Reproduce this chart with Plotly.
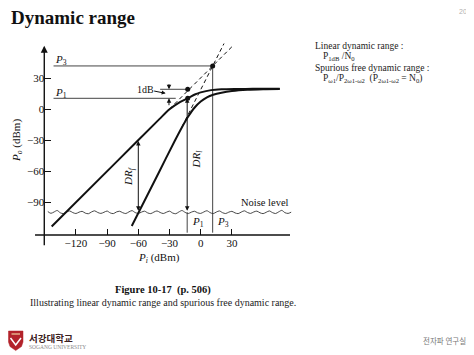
import plotly.graph_objects as go

W, H = 474, 355          # page / window size
OFF = 8                  # browser default body margin
FW, FH = W - OFF, H - OFF  # figure size so that it fills the window exactly

# ---------------- data ----------------
x_ticks = [-120, -90, -60, -30, 0, 30]
y_ticks = [30, 0, -30, -60, -90]

# fundamental output (compressed)
fund_x = [-143.3, -80, -40, -30, -20, -12.5, -5, 0, 10, 20, 35, 50, 76]
fund_y = [-113.0, -49.7, -9.7, 0.0, 7.0, 10.6, 14.5, 16.3, 18.5, 19.3, 19.6, 19.7, 19.7]
# third-order intermod output
third_x = [-66.3, -40, -25, -18, -12, -6, 0, 6, 12, 20, 30, 45, 60, 76]
third_y = [-112.6, -60.4, -30.6, -17.3, -7.0, 1.5, 7.5, 11.5, 14.0, 16.0, 17.6, 18.8, 19.3, 19.5]
# dashed linear extrapolations
fund_ext_x = [-30, 30.5]
fund_ext_y = [0.3, 60.8]
third_ext_x = [-18, 22.4]
third_ext_y = [-16.8, 63.4]
# special points
ip3_x, ip3_y = 11.5, 41.8          # intercept point (P3)
p1lin_x, p1lin_y = -12.5, 19.3     # linear extrapolation at 1 dB point
p1_x, p1_y = -12.5, 10.6           # 1 dB compression point (P1)
p1_in = -13.0                      # input at P1
noise_lvl = -99.3
# noise level trace
noise_x = [-147, -144, -141, -138, -135, -132, -129, -126, -123, -120, -117, -114, -111, -108,
           -105, -102, -99, -96, -93, -90, -87, -84, -81, -78, -75, -72, -69, -66, -63, -60,
           -57, -54, -51, -48, -45, -42, -39, -36, -33, -30, -27, -24, -21, -18, -15, -12,
           -9, -6, -3, 0, 3, 6, 9, 12, 15, 18, 21, 24, 27, 30, 33, 36, 39, 42, 45, 48, 51,
           54, 57, 60, 63, 66, 69, 72, 75, 78, 81, 84, 87]
noise_y = [-98.6, -100.3, -99.0, -97.6, -99.8, -100.6, -99.1, -98.0, -99.6, -100.5, -99.2,
           -98.4, -100.1, -100.7, -99.0, -97.9, -99.5, -100.4, -99.3, -98.1, -99.9, -100.6,
           -99.0, -98.3, -99.7, -100.5, -98.9, -97.7, -99.6, -100.4, -99.2, -98.2, -99.9,
           -100.6, -99.1, -98.0, -99.5, -100.5, -99.3, -98.2, -100.0, -100.7, -99.0, -97.6,
           -99.4, -100.5, -99.2, -98.3, -99.8, -100.4, -99.0, -97.8, -99.6, -100.6, -99.1,
           -98.0, -99.7, -100.5, -99.2, -98.4, -99.9, -100.6, -99.1, -97.9, -99.5, -100.4,
           -99.0, -98.2, -99.8, -100.6, -99.3, -98.0, -99.6, -100.5, -98.9, -97.5, -99.7,
           -100.4, -99.2]

# axes geometry in data units
axis_x0 = -150.4   # vertical axis position
axis_y0 = -121.2   # horizontal axis position
yaxis_bot, yaxis_top = -131.0, 61.3
xaxis_left, xaxis_right = -159.3, 85.9
level_left = -141.5
p1_line_right = -24.0
vline_bottom = -119.0

# ---------------- figure ----------------
PX0, SX = 200.7, 1.04     # page pixel of x=0, px per dB
PY0, SY = 109.3, 1.037    # page pixel of y=0, px per dB
xr = [(OFF - PX0) / SX, (W - PX0) / SX]
yr = [(PY0 - H) / SY, (PY0 - OFF) / SY]

SERIF = "Liberation Serif"
BLACK = "#111111"
fig = go.Figure()


def line(xs, ys, width=1.0, color=BLACK, dash="solid", shape="linear"):
    fig.add_trace(go.Scatter(x=xs, y=ys, mode="lines", hoverinfo="skip",
                             line=dict(color=color, width=width, dash=dash, shape=shape,
                                       smoothing=0.8)))


# axis lines
line([axis_x0, axis_x0], [yaxis_bot, yaxis_top - 3], width=1.4)
line([xaxis_left, xaxis_right], [axis_y0, axis_y0], width=1.4)

# P3 / P1 reference lines
line([level_left, ip3_x], [ip3_y, ip3_y], width=1.0, color="#444444")
line([level_left, p1_line_right], [p1_y, p1_y], width=1.0, color="#444444")
line([-39.0, p1lin_x], [p1lin_y, p1lin_y], width=1.0, color="#444444")
line([ip3_x, ip3_x], [ip3_y, vline_bottom], width=1.0, color="#444444")
line([p1_in, p1_in], [noise_lvl, vline_bottom], width=1.0, color="#444444")

# noise
line(noise_x, noise_y, width=0.9, color="#333333", shape="spline")

# dashed extrapolations
line(fund_ext_x, fund_ext_y, width=1.0, dash="4px,3px")
line(third_ext_x, third_ext_y, width=1.0, dash="4px,3px")

# main curves
line(fund_x, fund_y, width=2.0, shape="spline")
line(third_x, third_y, width=2.0, shape="spline")

# dots
fig.add_trace(go.Scatter(x=[ip3_x, p1lin_x, p1_x], y=[ip3_y, p1lin_y, p1_y], mode="markers",
                         hoverinfo="skip", marker=dict(color=BLACK, size=5)))

ann = []


def arrow(x, y, ax, ay, both=False, width=1.0, size=0.9, head=2):
    ann.append(dict(x=x, y=y, ax=ax, ay=ay, xref="x", yref="y", axref="x", ayref="y",
                    showarrow=True, arrowhead=head, startarrowhead=head, arrowsize=size,
                    startarrowsize=size, arrowwidth=width, arrowcolor=BLACK, text="",
                    arrowside="end+start" if both else "end"))


# y-axis arrow head
arrow(axis_x0, yaxis_top, axis_x0, yaxis_top - 8, width=1.4, size=1.0)
# DR_f arrow
arrow(-60, -30.5, -60, noise_lvl, both=True)
# DR_l arrow
arrow(p1_in, p1_y, p1_in, noise_lvl, both=True)
# 1 dB arrows
arrow(-30.5, p1lin_y, -30.5, 25.6)
arrow(-30.5, p1_y, -30.5, 2.5)
arrow(-33.7, 15.4, -46.2, 17.9, size=0.8)


def T(text, xpx, ypx, size=11, xanchor="center", color=BLACK, family=SERIF, angle=0,
      yanchor="middle"):
    # xpx, ypx are page pixels of the reference
    ann.append(dict(text=text, x=(xpx - OFF) / FW, y=1 - (ypx - OFF) / FH,
                    xref="paper", yref="paper",
                    showarrow=False, xanchor=xanchor, yanchor=yanchor, textangle=angle,
                    font=dict(size=size, color=color, family=family)))


# chart labels
T("<i>P</i><sub>3</sub>", 53, 60, 11, "left")
T("<i>P</i><sub>1</sub>", 53, 93, 11, "left")
T("1dB", 145, 89, 10)
T("<i>DR<sub>f</sub></i>", 129, 176, 11, angle=-90)
T("<i>DR<sub>l</sub></i>", 196.5, 160, 11, angle=-90)
T("<i>P</i><sub>1</sub>", 190, 222, 11, "left")
T("<i>P</i><sub>3</sub>", 215, 222, 11, "left")
T("Noise level", 264.5, 202.5, 10.5)
T("<i>P<sub>o</sub></i> (dBm)", 17, 141, 11, angle=-90)
T("<i>P<sub>i</sub></i> (dBm)", 159, 258, 11)

# slide texts
T("<b>Dynamic range</b>", 9, 17, 19, "left")
T("20", 463, 11.5, 7, color="#b0b0b0", family="Liberation Sans")
T("Linear dynamic range :", 312.5, 46, 9.5, "left", color="#222222")
T("P<sub>1dB</sub> /N<sub>0</sub>", 321, 56.5, 9.5, "left", color="#222222")
T("Spurious free dynamic range :", 312.5, 67.5, 9.5, "left", color="#222222")
T("P<sub>ω1</sub>/P<sub>2ω1-ω2</sub>  (P<sub>2ω1-ω2</sub> = N<sub>0</sub>)", 321, 78.5, 9.5,
  "left", color="#222222")
T("<b>Figure 10-17  (p. 506)</b>", 163, 290, 10.5)
T("Illustrating linear dynamic range and spurious free dynamic range.", 163, 302.5, 10,
  color="#222222")
T("<b>서강대학교</b>", 27, 337.5, 9.5, "left", color="#3a2020", family="Noto Sans CJK KR")
T("SOGANG UNIVERSITY", 27, 346.5, 5.5, "left", color="#8a8a8a")
T("전자파 연구실", 444, 340, 7.5, color="#777777", family="Noto Sans CJK KR")


def ppath(pts, close=True):
    s = ""
    for i, (a, b) in enumerate(pts):
        s += ("M" if i == 0 else "L") + f"{(a - OFF) / FW:.5f},{1 - (b - OFF) / FH:.5f} "
    return s + ("Z" if close else "")


shield = [(8.5, 331), (23, 331), (23, 342), (21.5, 346.5), (15.7, 350.5), (10, 346.5),
          (8.5, 342)]
shapes = [
    dict(type="path", xref="paper", yref="paper", path=ppath(shield),
         fillcolor="#b3232b", line=dict(color="#b3232b", width=0.5)),
    dict(type="path", xref="paper", yref="paper",
         path=ppath([(10.5, 338), (15.7, 345), (21, 338)], close=False),
         line=dict(color="white", width=1.5)),
    dict(type="path", xref="paper", yref="paper",
         path=ppath([(11.5, 334), (20, 334)], close=False),
         line=dict(color="#f0d0a0", width=1.2)),
]

fig.update_layout(
    width=FW, height=FH, margin=dict(l=0, r=0, t=0, b=0),
    paper_bgcolor="white", plot_bgcolor="white", showlegend=False,
    annotations=ann, shapes=shapes,
    xaxis=dict(range=xr, anchor="free", position=1 - (235 - OFF) / FH, showgrid=False,
               zeroline=False, showline=False, tickmode="array", tickvals=x_ticks,
               ticks="inside", ticklen=6, tickwidth=1, tickcolor=BLACK,
               tickfont=dict(family=SERIF, size=11, color=BLACK)),
    yaxis=dict(range=yr, anchor="free", position=(44.3 - OFF) / FW, showgrid=False,
               zeroline=False, showline=False, tickmode="array", tickvals=y_ticks,
               ticks="inside", ticklen=6, tickwidth=1, tickcolor=BLACK,
               tickfont=dict(family=SERIF, size=11, color=BLACK)),
)

fig.write_html("out.html")
